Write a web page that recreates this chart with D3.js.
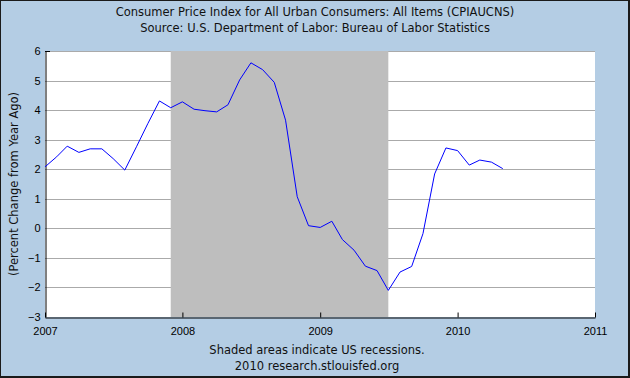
<!DOCTYPE html>
<html>
<head>
<meta charset="utf-8">
<script src="https://cdn.jsdelivr.net/npm/d3@7"></script>
<style>
	body { margin: 0; background: #fff; }
	svg { display: block; font-family: 'DejaVu Sans', Verdana, sans-serif; }
</style>
</head>
<body>
<div id="chart"></div>
<script>
// CPI-U, percent change from year ago, monthly Jan 2007 .. May 2010
const startMonth = '2007-01';
const cpiChange = [
	2.08, 2.42, 2.78, 2.57, 2.69, 2.69, 2.36, 1.97, 2.76, 3.54, 4.31, 4.08,
	4.28, 4.03, 3.98, 3.94, 4.18, 5.02, 5.60, 5.37, 4.94, 3.66, 1.07, 0.09,
	0.03, 0.24, -0.38, -0.74, -1.28, -1.43, -2.10, -1.48, -1.29, -0.18, 1.84, 2.72,
	2.63, 2.14, 2.31, 2.24, 2.02,
];
const recession = ['2007-12-01', '2009-07-01'];
const yTicks = [ -3, -2, -1, 0, 1, 2, 3, 4, 5, 6 ];
const xTickYears = [ 2007, 2008, 2009, 2010, 2011 ];
const titleLines = [
	'Consumer Price Index for All Urban Consumers: All Items (CPIAUCNS)',
	'Source: U.S. Department of Labor: Bureau of Labor Statistics',
];
const footerLines = [ 'Shaded areas indicate US recessions.', '2010 research.stlouisfed.org' ];
const yLabel = '(Percent Change from Year Ago)';

const W = 630;
const H = 378;
const plot = { left: 45, right: 595, top: 51, bottom: 317 };

const parseMonth = d3.timeParse('%Y-%m');
const parseDay = d3.timeParse('%Y-%m-%d');
const data = cpiChange.map((v, i) => ({ date: d3.timeMonth.offset(parseMonth(startMonth), i), value: v }));

const svg = d3.select('#chart').append('svg').attr('width', W).attr('height', H);

// background + frame
svg.append('rect').attr('width', W).attr('height', H).attr('fill', '#b4cde4');

const x = d3.scaleTime()
	.domain([ new Date(2007, 0, 1), new Date(2011, 0, 1) ])
	.range([ plot.left, plot.right ]);
const y = d3.scaleLinear().domain([ -3, 6 ]).range([ plot.bottom, plot.top ]);

svg.append('rect')
	.attr('x', plot.left)
	.attr('y', plot.top)
	.attr('width', plot.right - plot.left)
	.attr('height', plot.bottom - plot.top)
	.attr('fill', '#fff');

// gridlines
svg.append('g')
	.selectAll('line')
	.data(yTicks.filter((d) => d > -3))
	.enter()
	.append('line')
	.attr('x1', plot.left)
	.attr('x2', plot.right)
	.attr('y1', (d) => Math.round(y(d)) + 0.5)
	.attr('y2', (d) => Math.round(y(d)) + 0.5)
	.attr('stroke', '#aaaaaa')
	.attr('stroke-width', 1);

// recession shading (covers gridlines)
svg.append('rect')
	.attr('x', x(parseDay(recession[0])))
	.attr('y', plot.top)
	.attr('width', x(parseDay(recession[1])) - x(parseDay(recession[0])))
	.attr('height', plot.bottom - plot.top)
	.attr('fill', '#bebebe');

// axes
const yAxis = svg.append('g')
	.attr('transform', `translate(${plot.left + 0.5},0)`)
	.call(d3.axisLeft(y).tickValues(yTicks).tickSize(0).tickPadding(5));
yAxis.select('.domain').attr('stroke', '#000');
yAxis.selectAll('text').attr('font-size', 11).attr('fill', '#000').attr('font-family', null);
// top tick points inward
svg.append('line')
	.attr('x1', plot.left).attr('x2', plot.left + 5)
	.attr('y1', Math.round(y(6)) + 0.5).attr('y2', Math.round(y(6)) + 0.5)
	.attr('stroke', '#000');

const xAxis = svg.append('g')
	.attr('transform', `translate(0,${plot.bottom + 0.5})`)
	.call(d3.axisBottom(x)
		.tickValues(xTickYears.map((yr) => new Date(yr, 0, 1)))
		.tickFormat(d3.timeFormat('%Y'))
		.tickSizeInner(-5)
		.tickSizeOuter(0)
		.tickPadding(10));
xAxis.select('.domain').attr('stroke', '#000');
xAxis.selectAll('line').attr('stroke', '#000');
xAxis.selectAll('text').attr('font-size', 11).attr('fill', '#000').attr('font-family', null);

// the series
const line = d3.line().x((d) => x(d.date)).y((d) => y(d.value));
svg.append('path')
	.datum(data)
	.attr('fill', 'none')
	.attr('stroke', '#0000ff')
	.attr('stroke-width', 1)
	.attr('d', line);

// texts
svg.selectAll('.title')
	.data(titleLines)
	.enter()
	.append('text')
	.attr('x', W / 2)
	.attr('y', (d, i) => 16 + i * 16)
	.attr('text-anchor', 'middle')
	.attr('font-size', 11.5)
	.attr('fill', '#111')
	.text((d) => d);

svg.append('text')
	.attr('transform', `translate(18,${(plot.top + plot.bottom) / 2}) rotate(-90)`)
	.attr('text-anchor', 'middle')
	.attr('font-size', 11.5)
	.attr('fill', '#111')
	.text(yLabel);

svg.selectAll('.footer')
	.data(footerLines)
	.enter()
	.append('text')
	.attr('x', W / 2 + 2)
	.attr('y', (d, i) => 354 + i * 16)
	.attr('text-anchor', 'middle')
	.attr('font-size', 11.5)
	.attr('fill', '#111')
	.text((d) => d);

// frame
svg.append('rect').attr('x', 0.5).attr('y', 0.5).attr('width', W - 1).attr('height', H - 1)
	.attr('fill', 'none').attr('stroke', '#1a1a1a');
svg.append('line').attr('x1', W - 1.5).attr('x2', W - 1.5).attr('y1', 0).attr('y2', H).attr('stroke', '#1a1a1a');
svg.append('line').attr('x1', 0).attr('x2', W).attr('y1', H - 1.5).attr('y2', H - 1.5).attr('stroke', '#1a1a1a');
</script>
</body>
</html>
